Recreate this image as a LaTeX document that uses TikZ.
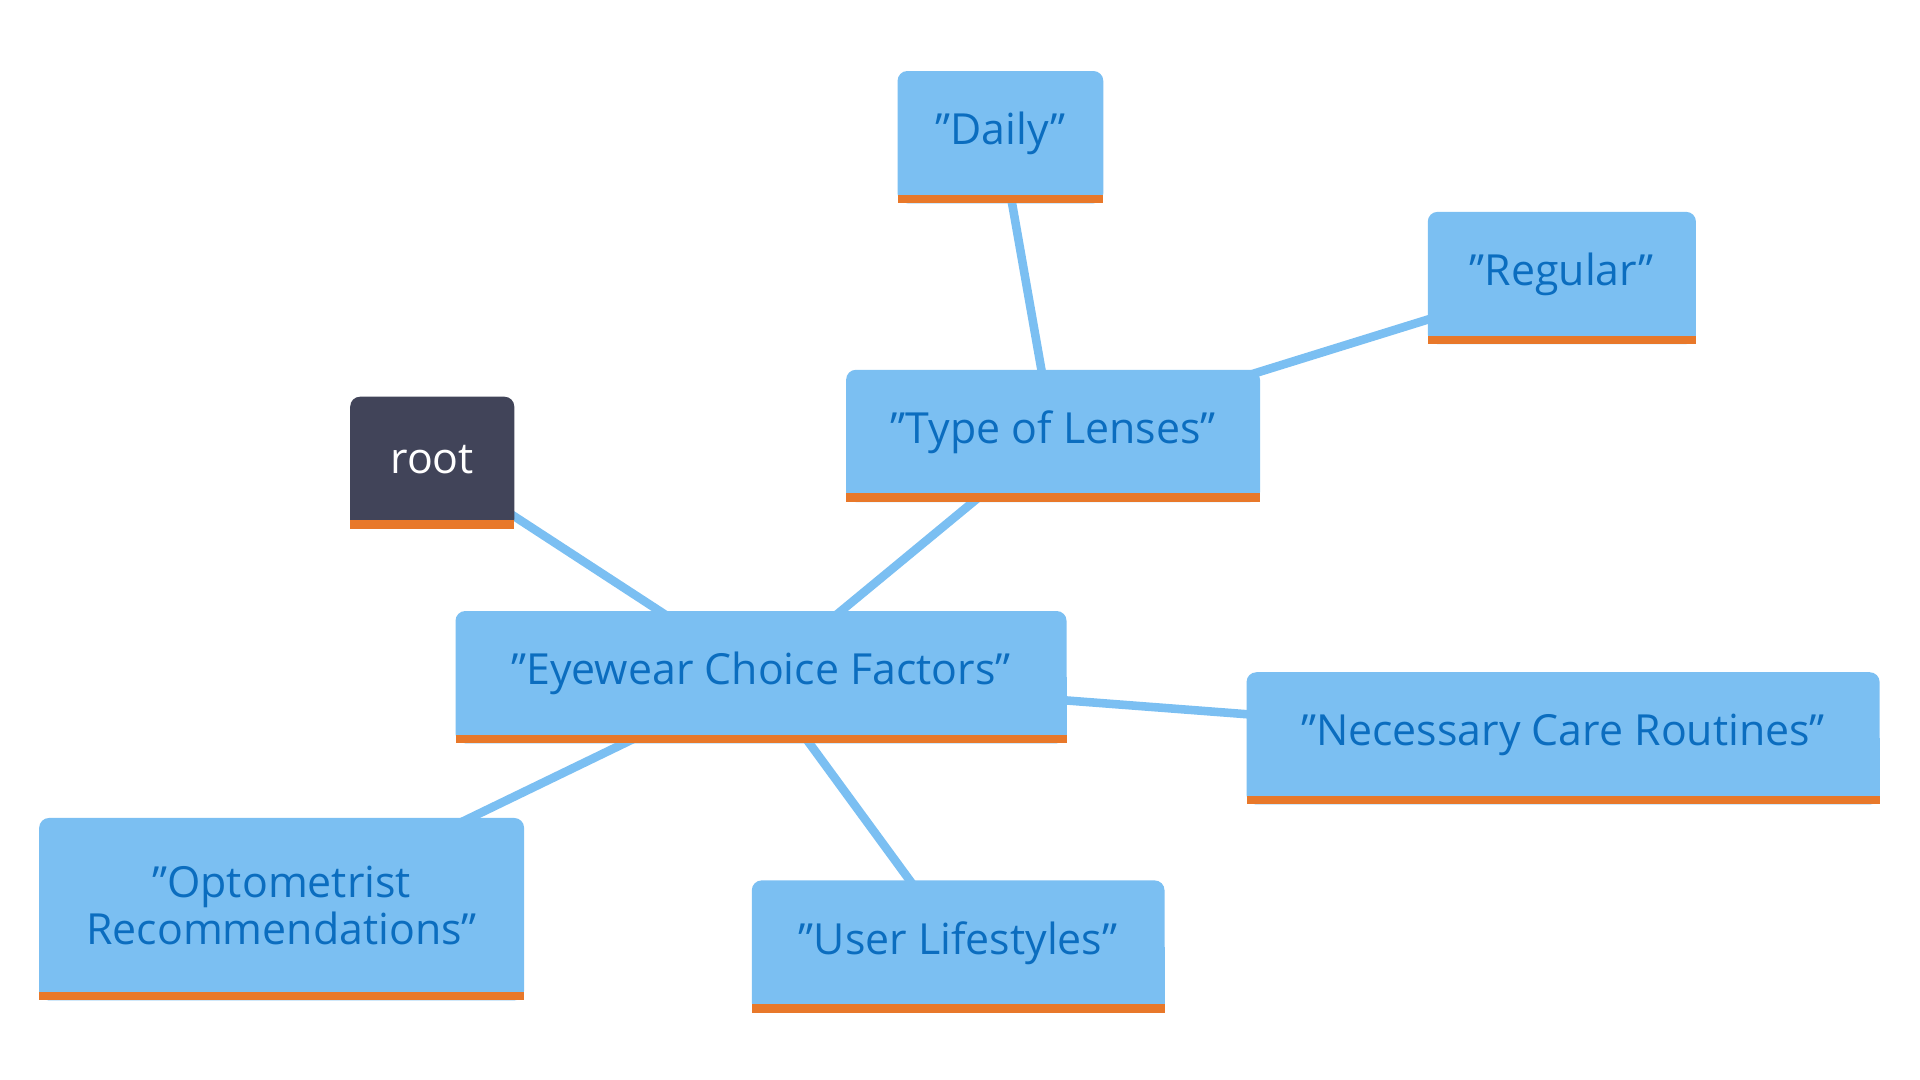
\documentclass[tikz,border=0pt]{standalone}
\usepackage{fontspec}
\setmainfont{Open Sans}
\definecolor{boxblue}{HTML}{7BBFF2}
\definecolor{textblue}{HTML}{0B6DBF}
\definecolor{barorange}{HTML}{E8782A}
\definecolor{rootgray}{HTML}{414459}
\begin{document}
\begin{tikzpicture}
		[x=0.5pt,y=-0.5pt,line cap=round,
		%Styles
		link/.style={boxblue,line width=3.5pt},
		box/.style={fill=boxblue,rounded corners=4pt,inner sep=0pt,align=center,
			text=textblue,font=\fontsize{17.5}{19}\selectfont},
		rootbox/.style={box,fill=rootgray,text=white},
		bar/.style={fill=barorange}
		]
		
		\useasboundingbox (0,0) rectangle (1568,882);
		
		% name / left / top / right / bottom / style / text
		\foreach \n/\l/\t/\r/\b/\s/\txt in {
			daily/733/58/901/166/box/{"Daily"},
			regular/1166/173/1385/281/box/{"Regular"},
			lenses/691/302/1029/410/box/{"Type of Lenses"},
			root/286/324/420/432/rootbox/{root},
			eyewear/372/499/871/607/box/{"Eyewear Choice Factors"},
			care/1018/549/1535/657/box/{"Necessary Care Routines"},
			opto/32/668/428/817/box/{"Optometrist\\Recommendations"},
			life/614/719/951/827/box/{"User Lifestyles"}}
		{
			\coordinate (\n) at ({(\l+\r)/2},{(\t+\b)/2});
			\coordinate (\n-nw) at (\l,\t);
			\coordinate (\n-se) at (\r,\b);
		}
		
		%Connectors
		\draw[link] (root) -- (eyewear);
		\draw[link] (eyewear) -- (lenses);
		\draw[link] (lenses) -- (daily);
		\draw[link] (lenses) -- (regular);
		\draw[link] (eyewear) -- (care);
		\draw[link] (eyewear) -- (opto);
		\draw[link] (eyewear) -- (life);
		
		%Boxes
		\foreach \n/\s/\txt in {
			daily/box/{"Daily"},
			regular/box/{"Regular"},
			lenses/box/{"Type of Lenses"},
			root/rootbox/{root},
			eyewear/box/{"Eyewear Choice Factors"},
			care/box/{"Necessary Care Routines"},
			opto/box/{"Optometrist\\Recommendations"},
			life/box/{"User Lifestyles"}}
		{
			\path[\s] (\n-nw) rectangle (\n-se);
			\fill[\s,rounded corners=0pt] (\n-nw |- \n) rectangle (\n-se);
			\fill[bar] (\n-nw |- \n-se) rectangle ([yshift=3.5pt]\n-se);
			\node[\s,fill=none] (\n-label) at ([yshift=1.5pt]\n) {\txt};
		}
	\end{tikzpicture}
\end{document}
